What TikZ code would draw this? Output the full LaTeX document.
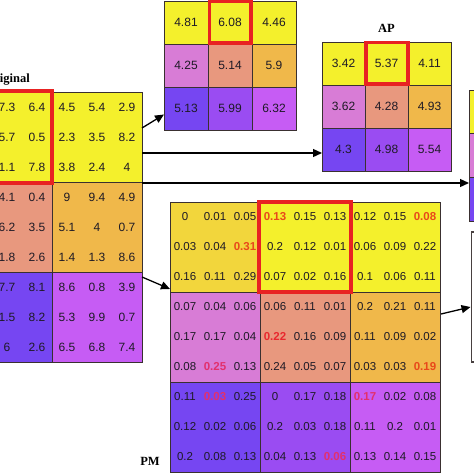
\documentclass[tikz,border=0pt]{standalone}
\usepackage{fontspec}
\setmainfont{Liberation Sans}
\newfontfamily\labfont{Liberation Serif}
\usetikzlibrary{arrows.meta}
\definecolor{yel}{HTML}{F4F02C}
\definecolor{gold}{HTML}{F2D63C}
\definecolor{sal}{HTML}{E8987E}
\definecolor{ora}{HTML}{F0B84A}
\definecolor{pnk}{HTML}{D87CD6}
\definecolor{blu}{HTML}{7646F2}
\definecolor{prp}{HTML}{9A4CF2}
\definecolor{vio}{HTML}{C65CF4}
\definecolor{edge}{HTML}{3A3030}
\definecolor{txt}{HTML}{1E1A26}
\definecolor{selred}{HTML}{E82222}
\definecolor{hlY}{HTML}{E8481A}
\definecolor{hlR}{HTML}{E8282E}
\definecolor{hlP}{HTML}{E2306C}
\newcommand\hY[1]{\textcolor{hlY}{\bfseries #1}}
\newcommand\hR[1]{\textcolor{hlR}{\bfseries #1}}
\newcommand\hP[1]{\textcolor{hlP}{\bfseries #1}}
\begin{document}
\begin{tikzpicture}[x=1pt,y=-1pt,
  num/.style={font=\fontsize{12}{13}\selectfont, text=txt, inner sep=0pt},
  pnum/.style={font=\fontsize{11.5}{12}\selectfont, text=txt, inner sep=0pt},
  blk/.style={draw=edge, line width=0.8pt},
  sel/.style={draw=selred, line width=3.2pt},
  arr/.style={-{Triangle[length=9pt,width=8pt]}, line width=1.3pt, black},
  lab/.style={font=\labfont\bfseries\fontsize{12.5}{13}\selectfont, inner sep=0pt}]
\useasboundingbox (0,0) rectangle (474,474);
\clip (0,0) rectangle (474,474);
\fill[white] (0,0) rectangle (474,474);

% ---------- Original ----------
\foreach \x/\y/\c in {-128/92/yel,-38/92/yel,52/92/yel,-128/182/sal,-38/182/sal,52/182/ora,-128/272/blu,-38/272/blu,52/272/vio}
  \draw[blk, fill=\c] (\x,\y) rectangle ++(90,90);
\foreach \row [count=\r from 0] in {{7.3,6.4,4.5,5.4,2.9},{5.7,0.5,2.3,3.5,8.2},{1.1,7.8,3.8,2.4,4},{4.1,0.4,9,9.4,4.9},{6.2,3.5,5.1,4,0.7},{1.8,2.6,1.4,1.3,8.6},{7.7,8.1,8.6,0.8,3.9},{1.5,8.2,5.3,9.9,0.7},{6,2.6,6.5,6.8,7.4}}
  \foreach \v [count=\c from 4] in \row
    \node[num] (o-\r-\c) at ({127-30*(8-\c)},{107+30*\r}) {\v};
\draw[sel] (-38,91) rectangle (52,183);
\node[lab, anchor=base east] (olab) at (30,82) {Original};

% ---------- top pooled box ----------
\foreach \x/\y/\c in {164/1/yel,208/1/yel,252/1/yel,164/44/pnk,208/44/sal,252/44/ora,164/87/blu,208/87/prp,252/87/vio}
  \draw[blk, fill=\c] (\x,\y) rectangle ++(44,43);
\foreach \row [count=\r from 0] in {{4.81,6.08,4.46},{4.25,5.14,5.9},{5.13,5.99,6.32}}
  \foreach \v [count=\c from 0] in \row
    \node[num] (m-\r-\c) at ({186+44*\c},{22.5+43*\r}) {\v};
\draw[sel] (209.5,1) rectangle (251,43);

% ---------- AP box ----------
\foreach \x/\y/\c in {322/42/yel,365/42/yel,408/42/yel,322/85/pnk,365/85/sal,408/85/ora,322/128/blu,365/128/prp,408/128/vio}
  \draw[blk, fill=\c] (\x,\y) rectangle ++(43,43);
\foreach \row [count=\r from 0] in {{3.42,5.37,4.11},{3.62,4.28,4.93},{4.3,4.98,5.54}}
  \foreach \v [count=\c from 0] in \row
    \node[num] (a-\r-\c) at ({343.5+43*\c},{63.5+43*\r}) {\v};
\draw[sel] (366,42.5) rectangle (408,84);
\node[lab, anchor=base] (aplab) at (386.5,32) {AP};

% ---------- PM box ----------
\foreach \x/\y/\c in {170/202/gold,260/202/yel,350/202/yel,170/292/pnk,260/292/sal,350/292/ora,170/382/blu,260/382/prp,350/382/vio}
  \draw[blk, fill=\c] (\x,\y) rectangle ++(90,90);
\foreach \row [count=\r from 0] in {
  {0,0.01,0.05,\hY{0.13},0.15,0.13,0.12,0.15,\hY{0.08}},
  {0.03,0.04,\hY{0.31},0.2,0.12,0.01,0.06,0.09,0.22},
  {0.16,0.11,0.29,0.07,0.02,0.16,0.1,0.06,0.11},
  {0.07,0.04,0.06,0.06,0.11,0.01,0.2,0.21,0.11},
  {0.17,0.17,0.04,\hR{0.22},0.16,0.09,0.11,0.09,0.02},
  {0.08,\hP{0.25},0.13,0.24,0.05,0.07,0.03,0.03,\hY{0.19}},
  {0.11,\hP{0.03},0.25,0,0.17,0.18,\hP{0.17},0.02,0.08},
  {0.12,0.02,0.06,0.2,0.03,0.18,0.11,0.2,0.01},
  {0.2,0.08,0.13,0.04,0.13,\hP{0.06},0.13,0.14,0.15}}
  \foreach \v [count=\c from 0] in \row
    \node[pnum] (p-\r-\c) at ({185+30*\c},{217+30*\r}) {\v};
\draw[sel] (259,202) rectangle (351,292);
\node[lab] (pmlab) at (150,461) {PM};

% ---------- partial boxes at the right edge ----------
\foreach \y/\c in {90/yel,133/pnk,177/blu}
  \draw[blk, fill=\c] (469,\y) rectangle ++(60,44);
\draw[draw=edge!80!gray, line width=1.6pt, fill=white] (471.5,232) rectangle (530,362);

% ---------- connectors ----------
\coordinate (s1) at (142,128);
\coordinate (e1) at (164,114.5);
\coordinate (s2) at (142,153);
\coordinate (e2) at (322,153);
\coordinate (s3) at (142,183);
\coordinate (e3) at (469,183);
\coordinate (s4) at (142,277);
\coordinate (e4) at (170,289);
\coordinate (s5) at (441,314);
\coordinate (e5) at (470.5,307);
\draw[arr] (s1) -- (e1);
\draw[arr] (s2) -- (e2);
\draw[arr] (s3) -- (e3);
\draw[arr] (s4) -- (e4);
\draw[arr] (s5) -- (e5);
\end{tikzpicture}
\end{document}
